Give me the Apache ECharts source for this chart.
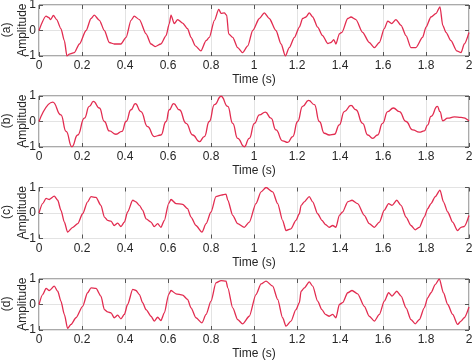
<!DOCTYPE html>
<html>
<head>
<meta charset="utf-8">
<script src="https://cdn.jsdelivr.net/npm/echarts@6/dist/echarts.min.js"></script>
<style>
html,body{margin:0;padding:0;background:#fff;}
#c{width:474px;height:362px;}
</style>
</head>
<body>
<div id="c"></div>
<script>
// ---- data ----
var panelLabels = ['(a)', '(b)', '(c)', '(d)'];
var xTickValues = [0, 0.2, 0.4, 0.6, 0.8, 1, 1.2, 1.4, 1.6, 1.8, 2];
var yTickValues = [-1, 0, 1];
var xName = 'Time (s)';
var yName = 'Amplitude';

var tA = [0,0.033,0.045,0.054,0.067,0.082,0.102,0.118,0.130,0.141,0.164,0.188,0.219,0.242,0.257,0.281,0.304,0.327,0.350,0.381,0.405,0.428,0.443,0.467,0.498,0.521,0.540,0.567,0.591,0.606,0.614,0.629,0.645,0.668,0.691,0.707,0.727,0.753,0.777,0.792,0.816,0.836,0.847,0.862,0.873,0.882,0.901,0.924,0.947,0.971,0.994,1.025,1.048,1.071,1.102,1.126,1.146,1.164,1.188,1.211,1.226,1.242,1.257,1.273,1.296,1.319,1.343,1.358,1.371,1.381,1.397,1.409,1.436,1.451,1.474,1.505,1.536,1.560,1.583,1.606,1.622,1.640,1.660,1.684,1.707,1.730,1.753,1.784,1.800,1.823,1.847,1.865,1.878,1.893,1.916,1.943,1.963,1.978,2.0];
var ampA = [0,0.56,0.51,0.43,0.59,0.43,0.07,-0.4,-1.0,-0.93,-0.87,-0.53,0,0.47,0.6,0.4,0,-0.47,-0.53,-0.53,-0.27,0.4,0.56,0.43,-0.13,-0.53,-0.63,-0.53,-0.2,0.27,0.6,0.27,0.43,0.29,0.07,-0.27,-0.6,-0.8,-0.4,-0.27,0.4,0.83,0.67,0.69,0.6,-0.13,-0.27,-0.67,-0.87,-0.6,0,0.47,0.69,0.47,0,-0.53,-1,-0.67,-0.27,0.13,0.47,0.53,0.69,0.53,0.13,-0.2,-0.51,-0.47,-0.36,-0.53,-0.13,-0.07,0.47,0.53,0.43,-0.07,-0.47,-0.67,-0.47,0.07,0.37,0.27,0.43,0.2,-0.2,-0.67,-0.67,-0.27,0.13,0.53,0.67,0.93,0.2,-0.07,-0.4,-0.8,-0.87,-0.53,-0.08];

var tB = [0,0.064,0.102,0.126,0.153,0.180,0.211,0.234,0.253,0.281,0.304,0.327,0.358,0.386,0.405,0.428,0.448,0.474,0.505,0.536,0.567,0.591,0.606,0.626,0.653,0.684,0.715,0.746,0.769,0.792,0.816,0.847,0.878,0.901,0.924,0.955,0.978,1.002,1.025,1.053,1.079,1.102,1.133,1.157,1.180,1.203,1.226,1.254,1.281,1.304,1.327,1.350,1.374,1.397,1.420,1.451,1.474,1.505,1.529,1.552,1.575,1.598,1.622,1.648,1.676,1.707,1.738,1.769,1.792,1.808,1.823,1.853,1.865,1.878,1.901,1.932,1.963,2.0];
var ampB = [0,0.76,0.26,-0.39,-0.99,-0.53,0.13,0.59,0.79,0.53,0,-0.37,-0.5,-0.39,0,0.46,0.7,0.39,-0.2,-0.59,-0.53,0,0.46,0.7,0.46,-0.07,-0.53,-0.79,-0.59,0,0.66,0.99,0.59,-0.07,-0.66,-0.99,-0.66,-0.07,0.26,0.37,0.13,-0.33,-0.76,-0.82,-0.59,0,0.59,0.83,0.66,0,-0.46,-0.53,-0.5,-0.13,0.39,0.63,0.46,-0.07,-0.53,-0.66,-0.53,-0.07,0.39,0.53,0.39,0,-0.33,-0.42,-0.37,-0.13,0.2,0.59,0.39,0.03,0.13,0.18,0.16,0.03];

var tC = [0,0.017,0.033,0.048,0.071,0.087,0.102,0.118,0.133,0.157,0.180,0.203,0.226,0.242,0.265,0.288,0.304,0.319,0.335,0.350,0.366,0.381,0.397,0.412,0.436,0.451,0.467,0.482,0.498,0.521,0.536,0.552,0.567,0.583,0.603,0.614,0.637,0.668,0.691,0.707,0.730,0.758,0.777,0.800,0.823,0.847,0.870,0.878,0.901,0.924,0.955,0.978,1.009,1.033,1.056,1.087,1.110,1.133,1.149,1.172,1.195,1.211,1.219,1.234,1.257,1.273,1.296,1.316,1.332,1.350,1.366,1.381,1.397,1.412,1.436,1.456,1.482,1.513,1.536,1.560,1.583,1.606,1.626,1.642,1.664,1.684,1.707,1.730,1.750,1.769,1.792,1.808,1.823,1.843,1.865,1.881,1.901,1.924,1.947,1.963,1.978,2.0];
var ampC = [0,0.37,0.57,0.53,0.66,0.5,0.11,-0.36,-0.75,-0.56,-0.42,-0.03,0.44,0.64,0.61,0.3,-0.16,-0.29,-0.32,-0.49,-0.4,-0.53,-0.36,0.04,0.5,0.44,0.3,0.11,-0.23,-0.36,-0.53,-0.42,-0.56,-0.29,0.37,0.53,0.37,0.34,0.17,-0.16,-0.49,-0.75,-0.42,0.04,0.64,0.7,0.74,0.5,-0.09,-0.42,-0.56,-0.36,0.37,0.83,1.0,0.83,0.37,-0.29,-0.69,-0.62,-0.29,-0.03,0.3,0.44,0.64,0.44,-0.03,-0.29,-0.45,-0.56,-0.49,-0.56,-0.09,0.04,0.44,0.5,0.37,-0.09,-0.42,-0.56,-0.36,0.11,0.37,0.3,0.5,0.3,-0.16,-0.49,-0.66,-0.56,-0.16,0.17,0.37,0.64,0.9,0.44,0.04,-0.36,-0.69,-0.56,-0.53,-0.1];

var tD = [0,0.017,0.033,0.048,0.071,0.087,0.102,0.118,0.133,0.149,0.172,0.203,0.226,0.242,0.265,0.288,0.304,0.319,0.335,0.350,0.366,0.381,0.397,0.412,0.436,0.451,0.467,0.482,0.498,0.521,0.536,0.552,0.567,0.583,0.603,0.614,0.637,0.668,0.691,0.707,0.730,0.758,0.777,0.800,0.823,0.847,0.870,0.878,0.901,0.924,0.947,0.978,1.009,1.033,1.056,1.087,1.110,1.133,1.149,1.172,1.195,1.211,1.219,1.234,1.257,1.273,1.296,1.316,1.332,1.350,1.366,1.381,1.397,1.412,1.436,1.456,1.482,1.513,1.536,1.560,1.583,1.606,1.626,1.642,1.664,1.684,1.707,1.730,1.750,1.769,1.792,1.808,1.823,1.843,1.862,1.881,1.901,1.924,1.947,1.963,1.978,2.0];
var ampD = [0,0.39,0.63,0.55,0.72,0.52,0.13,-0.39,-0.94,-0.78,-0.52,-0.07,0.46,0.65,0.63,0.33,-0.2,-0.29,-0.33,-0.52,-0.42,-0.56,-0.39,0,0.59,0.55,0.39,0.07,-0.2,-0.46,-0.65,-0.5,-0.63,-0.33,0.39,0.55,0.42,0.37,0.2,-0.13,-0.52,-0.72,-0.39,0.13,0.85,0.94,0.92,0.65,-0.13,-0.59,-0.76,-0.46,0.39,0.81,0.92,0.72,0.2,-0.52,-0.85,-0.65,-0.2,0.07,0.52,0.65,0.89,0.72,0.13,-0.2,-0.39,-0.46,-0.39,-0.52,0,0.07,0.46,0.55,0.42,-0.07,-0.46,-0.65,-0.39,0.13,0.46,0.33,0.52,0.33,-0.13,-0.59,-0.76,-0.59,-0.13,0.26,0.46,0.78,1.0,0.46,0,-0.39,-0.78,-0.65,-0.52,-0.1];

var times = [tA, tB, tC, tD];
var amps = [ampA, ampB, ampC, ampD];

// ---- layout / style ----
var gridTops = [5, 96, 187.5, 279];
var gridH = 51;
var lineColor = '#e22c50';
var boxColor = '#555555';
var textColor = '#262626';
var font = 'Liberation Sans, Arial, sans-serif';

var chart = echarts.init(document.getElementById('c'), null, {renderer: 'canvas'});

function zip(t, v) {
  var out = [];
  for (var i = 0; i < t.length && i < v.length; i++) out.push([t[i], v[i]]);
  return out;
}

var grids = [], xAxes = [], yAxes = [], series = [], graphics = [];
for (var i = 0; i < 4; i++) {
  var cy = gridTops[i] + gridH / 2;
  grids.push({left: 39, right: 5, top: gridTops[i], height: gridH, show: true,
    borderColor: boxColor, borderWidth: 1, backgroundColor: '#fff',
    containLabel: false, outerBoundsMode: 'none'});
  // bottom x axis
  xAxes.push({type: 'value', gridIndex: i, min: 0, max: 2, interval: 0.2, position: 'bottom',
    name: xName, nameLocation: 'middle', nameGap: 18, nameMoveOverlap: false,
    nameTextStyle: {fontSize: 12, color: textColor, fontFamily: font},
    axisLine: {show: false, onZero: false},
    axisTick: {show: true, inside: true, length: 4, lineStyle: {color: boxColor}},
    axisLabel: {show: true, margin: 4, fontSize: 12, color: textColor, fontFamily: font,
      formatter: function (v) { return String(Math.round(v * 10) / 10); }},
    splitLine: {show: true, lineStyle: {color: '#e3e3e3', width: 1}}});
  // top x axis (ticks only)
  xAxes.push({type: 'value', gridIndex: i, min: 0, max: 2, interval: 0.2, position: 'top',
    axisLine: {show: false, onZero: false},
    axisTick: {show: true, inside: true, length: 4, lineStyle: {color: boxColor}},
    axisLabel: {show: false}, splitLine: {show: false}});
  // left y axis
  yAxes.push({type: 'value', gridIndex: i, min: -1, max: 1, interval: 1, position: 'left',
    axisLine: {show: false, onZero: false},
    axisTick: {show: true, inside: true, length: 4, lineStyle: {color: boxColor}},
    axisLabel: {show: true, margin: 3, fontSize: 12, color: textColor, fontFamily: font},
    splitLine: {show: true, lineStyle: {color: '#e3e3e3', width: 1}}});
  // right y axis (ticks only)
  yAxes.push({type: 'value', gridIndex: i, min: -1, max: 1, interval: 1, position: 'right',
    axisLine: {show: false, onZero: false},
    axisTick: {show: true, inside: true, length: 4, lineStyle: {color: boxColor}},
    axisLabel: {show: false}, splitLine: {show: false}});
  series.push({type: 'line', xAxisIndex: 2 * i, yAxisIndex: 2 * i,
    data: zip(times[i], amps[i]), showSymbol: false, symbol: 'none',
    smooth: i === 1 ? 0.5 : 0.25, smoothMonotone: 'x', clip: true,
    lineStyle: {color: lineColor, width: 1.3}, animation: false});
  // y-axis title (rotated)
  graphics.push({type: 'text', rotation: Math.PI / 2, left: 16.5, top: cy - 27,
    style: {text: yName, fill: textColor, font: '12px ' + font}});
  // panel label (rotated)
  graphics.push({type: 'text', rotation: Math.PI / 2, left: 0.5, top: cy - 8,
    style: {text: panelLabels[i], fill: textColor, font: '12px ' + font}});
}

chart.setOption({
  animation: false,
  backgroundColor: '#ffffff',
  grid: grids,
  xAxis: xAxes,
  yAxis: yAxes,
  series: series,
  graphic: graphics
});
</script>
</body>
</html>
